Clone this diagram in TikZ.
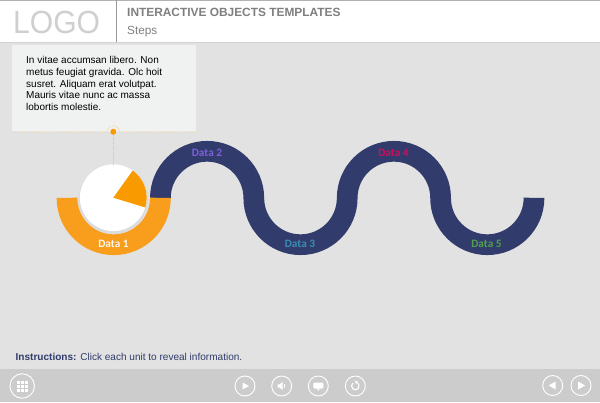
\documentclass[tikz,border=0pt]{standalone}
\usepackage{fontspec}
\setmainfont{Liberation Sans}
\newfontfamily\datafont{Carlito}
\usetikzlibrary{arrows,shapes,matrix}

\definecolor{wall}{HTML}{E1E2E1}
\definecolor{barfill}{HTML}{CBCCCB}
\definecolor{notefill}{HTML}{F0F2F1}
\definecolor{navy}{HTML}{323C6C}
\definecolor{amber}{HTML}{F99D1C}
\definecolor{pieamber}{HTML}{F99B00}
\definecolor{titlegray}{HTML}{7F7F7F}
\definecolor{logogray}{HTML}{CFCFCF}
\definecolor{dottan}{HTML}{EBC48C}

\begin{document}
\begin{tikzpicture}[
x=1pt, y=1pt,
band/.style={line width=20.7pt},
datalabel/.style={font=\datafont\bfseries\fontsize{11.3}{12}\selectfont},
btn/.style={circle, draw=white, line width=0.9pt, minimum size=20pt, inner sep=0pt, fill=none},
menugrid/.style={
    matrix of nodes,
    nodes in empty cells,
    nodes={fill=white, minimum size=3pt, inner sep=0pt},
    column sep=1pt,
    row sep=1pt,
},
]
\useasboundingbox (0,0) rectangle (600,402);

\fill[wall] (0,0) rectangle (600,402);
\fill[white] (0,360) rectangle (600,402);
\fill[barfill] (0,0) rectangle (600,33);
\draw[gray!35, line width=0.5pt] (0,360) -- (600,360);
\draw[gray!60, line width=0.5pt] (0,401.7) -- (600,401.7);
\draw[titlegray!80, line width=0.6pt] (116.3,360) -- (116.3,402);

\node[anchor=west, text=logogray, font=\fontsize{32}{32}\selectfont, inner sep=0pt, xscale=0.94] (logo) at (13,379.5) {LOGO};
\node[anchor=west, text=titlegray, font=\bfseries\fontsize{11.9}{12}\selectfont, inner sep=0pt] (title) at (127,389.5) {INTERACTIVE OBJECTS TEMPLATES};
\node[anchor=west, text=titlegray, font=\fontsize{11.8}{12}\selectfont, inner sep=0pt] (subtitle) at (127,370) {Steps};

\fill[notefill] (12,270.3) rectangle (196,357);
\node[anchor=north west, align=left, inner sep=0pt, font=\fontsize{10}{11.7}\selectfont] (note) at (26,345.7) {In vitae accumsan libero. Non\\metus feugiat gravida. Olc hoit\\susret. Aliquam erat volutpat.\\Mauris vitae nunc ac massa\\lobortis molestie.};

\node[circle, fill=pieamber, minimum size=6pt, inner sep=0pt] (tip) at (113.3,270.3) {};
\draw[dottan, densely dotted, line width=0.7pt] (12,270.3) -- (107.3,270.3) arc (180:0:6pt) -- (196,270.3);

\draw[band, navy] (160.4,204.2) -- (160.4,204) arc (180:0:46.7pt) arc (180:360:46.7pt) arc (180:0:46.7pt) arc (180:360:46.7pt) -- (534,204.2);
\draw[band, amber] (67,204.2) -- (67,204) arc (180:360:46.7pt) -- (160.4,204.2);

\fill[gray!28] (113.3,203) circle (34.8pt);
\node[circle, fill=white, minimum size=66.8pt, inner sep=0pt] (pie) at (113.3,204.3) {};
\fill[pieamber] (pie.center) -- ++(54.4:33.4) arc (54.4:-17:33.4pt) -- cycle;
\draw[dottan, densely dotted, line width=0.7pt] (tip) -- (pie);

\node[datalabel, text=white!92!amber] (data1) at (113.5,158.5) {Data 1};
\node[datalabel, text={rgb,255:red,126;green,95;blue,216}] (data2) at (207,249.5) {Data 2};
\node[datalabel, text={rgb,255:red,58;green,140;blue,180}] (data3) at (300,158) {Data 3};
\node[datalabel, text={rgb,255:red,200;green,16;blue,95}] (data4) at (393.5,249.5) {Data 4};
\node[datalabel, text={rgb,255:red,78;green,160;blue,74}] (data5) at (486.5,158) {Data 5};

\node[anchor=west, inner sep=0pt, text=navy, font=\fontsize{10.05}{12}\selectfont] (instr) at (15.5,45) {\textbf{Instructions:} Click each unit to reveal information.};

\node[btn, minimum size=24.5pt] (menu) at (22.2,16) {};
\matrix[menugrid] (menuicon) at (menu.center) {
  & & \\
  & & \\
  & & \\
};
\node[btn] (play) at (245,16) {};
\fill[white] (play.center) ++(-2.5,3.5) -- ++(6.5,-3.5) -- ++(-6.5,-3.5) -- cycle;
\node[btn] (sound) at (281.7,16) {};
\fill[white] (sound.center) ++(-4,1.7) -- ++(2,0) -- ++(3,2.5) -- ++(0,-8.4) -- ++(-3,2.5) -- ++(-2,0) -- cycle;
\fill[white] (sound.center) ++(2,-2) rectangle ++(1.5,4);
\node[btn] (talk) at (318.3,16) {};
\fill[white, rounded corners=1pt] (talk.center) ++(-5,-2.5) rectangle ++(10,6);
\fill[white] (talk.center) ++(-1.5,-2.5) -- ++(3,0) -- ++(-1.5,-2.5) -- cycle;
\node[btn] (replay) at (355.3,16) {};
\draw[white, line width=1.1pt] (replay.center) ++(1.9,3.3) arc (60:-230:3.8pt);
\fill[white] (replay.center) ++(0,2.2) -- ++(0,3.4) -- ++(3,-1.7) -- cycle;
\node[btn] (prev) at (552.7,16.5) {};
\fill[white] (prev.center) ++(3,4) -- ++(-7,-4) -- ++(7,-4) -- cycle;
\node[btn] (next) at (581,16.5) {};
\fill[white] (next.center) ++(-3,4) -- ++(7,-4) -- ++(-7,-4) -- cycle;

\end{tikzpicture}
\end{document}
